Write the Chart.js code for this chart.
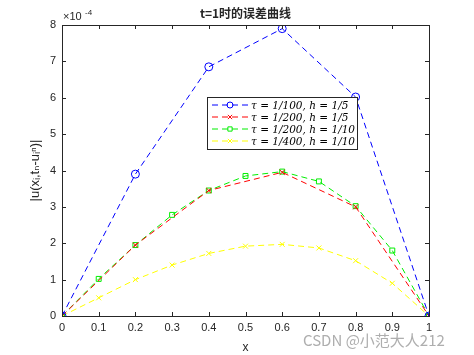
<!DOCTYPE html>
<html><head><meta charset="utf-8">
<script src="https://cdn.jsdelivr.net/npm/chart.js@4/dist/chart.umd.min.js"></script>
<style>html,body{margin:0;padding:0;background:#fff}#wrap{width:474px;height:355px}</style>
</head><body><div id="wrap"><canvas id="c" width="474" height="355"></canvas></div>
<script>
const chartTitle = 't=1时的误差曲线';
const xCoarse = [0, 0.2, 0.4, 0.6, 0.8, 1];
const xFine = [0, 0.1, 0.2, 0.3, 0.4, 0.5, 0.6, 0.7, 0.8, 0.9, 1];
const errTau100h5 = [0, 3.9, 6.85, 7.9, 6.02, 0];
const errTau200h5 = [0, 1.95, 3.45, 3.95, 3.0, 0];
const errTau200h10 = [0, 1.02, 1.95, 2.78, 3.45, 3.85, 3.97, 3.7, 3.02, 1.8, 0];
const errTau400h10 = [0, 0.5, 1.0, 1.4, 1.72, 1.92, 1.97, 1.87, 1.52, 0.9, 0];
const seriesLabels = ['τ = 1/100, h = 1/5', 'τ = 1/200, h = 1/5', 'τ = 1/200, h = 1/10', 'τ = 1/400, h = 1/10'];
const xTicks = [0, 0.1, 0.2, 0.3, 0.4, 0.5, 0.6, 0.7, 0.8, 0.9, 1];
const yTicks = [0, 1, 2, 3, 4, 5, 6, 7, 8];

const pts = (xs, ys) => xs.map((x, i) => ({x, y: ys[i]}));
const styles = [
  {c: '#0000ff', p: 'circle', r: 4},
  {c: '#ff0000', p: 'crossRot', r: 3.5},
  {c: '#00ee00', p: 'rect', r: 3.5},
  {c: '#ffff00', p: 'crossRot', r: 3.5}
];
const dataSets = [pts(xCoarse, errTau100h5), pts(xCoarse, errTau200h5), pts(xFine, errTau200h10), pts(xFine, errTau400h10)];

const datasets = dataSets.map((d, i) => ({
  label: seriesLabels[i], data: d,
  borderColor: styles[i].c, backgroundColor: 'rgba(0,0,0,0)',
  borderWidth: 1, borderDash: [6, 4],
  pointStyle: styles[i].p, pointRadius: styles[i].r, pointBorderColor: styles[i].c,
  pointBorderWidth: 1, pointBackgroundColor: 'rgba(0,0,0,0)', tension: 0
}));

const boxPlugin = {
  id: 'box',
  afterDraw(chart) {
    const {ctx, chartArea: a, scales: {x, y}} = chart;
    ctx.save();
    ctx.strokeStyle = '#262626'; ctx.lineWidth = 1;
    ctx.strokeRect(Math.round(a.left) + 0.5, Math.round(a.top) + 0.5, Math.round(a.right - a.left), Math.round(a.bottom - a.top));
    ctx.beginPath();
    xTicks.forEach(v => {
      const px = Math.round(x.getPixelForValue(v)) + 0.5;
      ctx.moveTo(px, a.bottom); ctx.lineTo(px, a.bottom - 4);
      ctx.moveTo(px, a.top); ctx.lineTo(px, a.top + 4);
    });
    yTicks.forEach(v => {
      const py = Math.round(y.getPixelForValue(v)) + 0.5;
      ctx.moveTo(a.left, py); ctx.lineTo(a.left + 4, py);
      ctx.moveTo(a.right, py); ctx.lineTo(a.right - 4, py);
    });
    ctx.stroke();
    // title
    ctx.fillStyle = '#262626';
    ctx.font = 'bold 12px "Noto Sans CJK SC", "Liberation Sans", sans-serif';
    ctx.textAlign = 'center'; ctx.textBaseline = 'middle';
    ctx.fillText(chartTitle, (a.left + a.right) / 2, 13);
    // exponent label
    ctx.font = '11px "Liberation Sans", Arial, sans-serif';
    ctx.textBaseline = 'alphabetic'; ctx.textAlign = 'left';
    ctx.fillText('×10', a.left + 1, a.top - 5);
    ctx.font = '8px "Liberation Sans", Arial, sans-serif';
    ctx.fillText('-4', a.left + 23, a.top - 10);
    // legend
    const lx = 207, ly = 97, lw = 150, lh = 52;
    ctx.fillStyle = '#fff';
    ctx.fillRect(lx, ly, lw, lh);
    ctx.strokeStyle = '#262626';
    ctx.strokeRect(lx + 0.5, ly + 0.5, lw, lh);
    chart.data.datasets.forEach((ds, i) => {
      const cy = ly + 8 + i * 12;
      ctx.strokeStyle = ds.borderColor; ctx.lineWidth = 1;
      ctx.setLineDash([6, 4]);
      ctx.beginPath(); ctx.moveTo(lx + 5, cy); ctx.lineTo(lx + 41, cy); ctx.stroke();
      ctx.setLineDash([]);
      ctx.fillStyle = 'rgba(0,0,0,0)';
      Chart.helpers.drawPoint(ctx, {pointStyle: ds.pointStyle, radius: 3, borderWidth: 1}, lx + 23, cy);
      ctx.fillStyle = '#000';
      ctx.font = 'italic 10.5px "DejaVu Serif", "Liberation Serif", serif';
      ctx.textBaseline = 'middle';
      ctx.fillText(ds.label, lx + 44, cy + 1);
    });
    // watermark
    ctx.font = '15px "Noto Sans CJK SC", sans-serif';
    ctx.fillStyle = 'rgba(160,160,160,0.85)';
    ctx.textBaseline = 'alphabetic';
    ctx.fillText('CSDN @小范大人212', 303, 346);
    ctx.restore();
  }
};

new Chart(document.getElementById('c'), {
  type: 'line',
  data: {datasets},
  options: {
    responsive: false, animation: false,
    layout: {padding: {left: 28, right: 45, top: 25, bottom: 0}},
    plugins: {
      legend: {display: false}, tooltip: {enabled: false}, title: {display: false}
    },
    scales: {
      x: {type: 'linear', min: 0, max: 1,
        afterBuildTicks: s => { s.ticks = xTicks.map(v => ({value: v})); },
        grid: {display: false, drawTicks: false}, border: {display: false},
        ticks: {color: '#262626', padding: 5, font: {size: 11, family: '"Liberation Sans", Arial, sans-serif'},
          callback: v => String(v)},
        title: {display: true, text: 'x', color: '#262626', padding: {top: 0, bottom: 0}, font: {size: 12, family: '"Liberation Sans", Arial, sans-serif'}},
        afterFit: s => { s.height = 39; }
      },
      y: {type: 'linear', min: 0, max: 8,
        afterBuildTicks: s => { s.ticks = yTicks.map(v => ({value: v})); },
        grid: {display: false, drawTicks: false}, border: {display: false},
        ticks: {color: '#262626', padding: 6, font: {size: 11, family: '"Liberation Sans", Arial, sans-serif'}},
        title: {display: true, text: '|u(xᵢ,tₙ-uᵢⁿ)|', color: '#262626', padding: {top: 0, bottom: 0}, font: {size: 13, family: '"Liberation Sans", "DejaVu Sans", sans-serif'}},
        afterFit: s => { s.width = 34; }
      }
    }
  },
  plugins: [boxPlugin]
});
</script></body></html>
